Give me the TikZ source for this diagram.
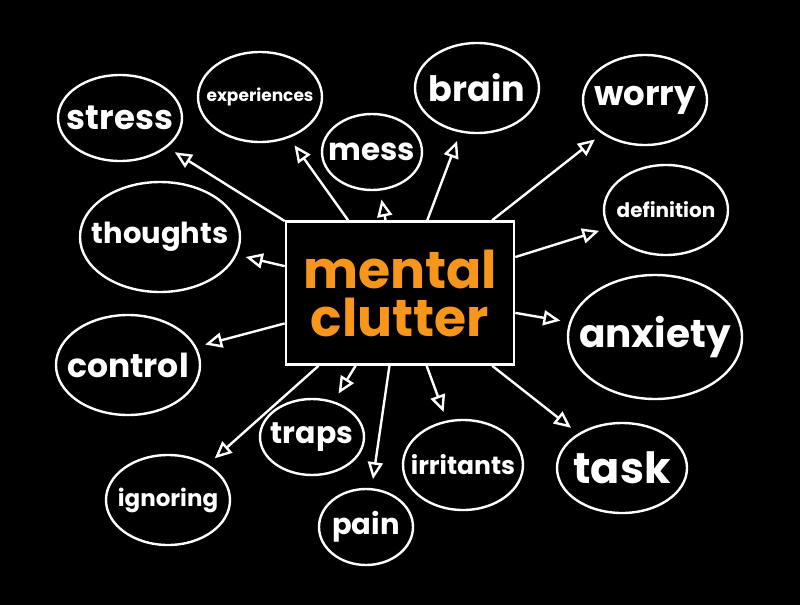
\documentclass[tikz,border=0pt]{standalone}
\usepackage{fontspec}
\setmainfont{Poppins}
\usetikzlibrary{arrows.meta,shapes.geometric}

\definecolor{clutterorange}{RGB}{248,150,28}

\begin{document}
\begin{tikzpicture}[x=1pt,y=-1pt,>={Triangle[open,length=17pt,width=15pt]},
    bubble/.style={ellipse,draw=white,line width=2.4pt,inner sep=0pt},
    spoke/.style={->,white,line width=2.4pt,shorten >=9pt}]
    \fill[black] (0,0) rectangle (800,605);

    % centre
    \node[draw=white,line width=2.6pt,minimum width=228pt,minimum height=143pt,
      text=clutterorange,align=center,font=\bfseries\fontsize{52}{48}\selectfont]
      (clutter) at (400,293) {mental\\clutter};

    % bubbles: name/x/y/rx/ry/size
    \foreach \n/\x/\y/\rx/\ry/\s in {stress/120/118/62/43/34,experiences/260/97/62/45/17,
      mess/372/152/50/38/31,brain/477/88/62/45/35,worry/645/100/62/45/34,
      thoughts/160/237/80/55/29,definition/666/210/62/45/20,control/128/365/72/50/33,
      anxiety/655/337/87/62/39,traps/312/437/52/38/30,irritants/463/465/60/45/25,
      task/622/468/65/45/43,ignoring/168/500/62/45/23,pain/366/527/47/38/29}
    {
      \node[bubble,minimum width={2*\rx},minimum height={2*\ry},
        label={[text=white,font=\bfseries\fontsize{\s}{\s}\selectfont]center:\n}]
        (\n) at (\x,\y) {};
    }

    \foreach \n in {stress,experiences,mess,brain,worry,thoughts,definition,
      control,anxiety,traps,irritants,task,ignoring,pain}
      \draw[spoke] (clutter) -- (\n);
  \end{tikzpicture}
\end{document}
